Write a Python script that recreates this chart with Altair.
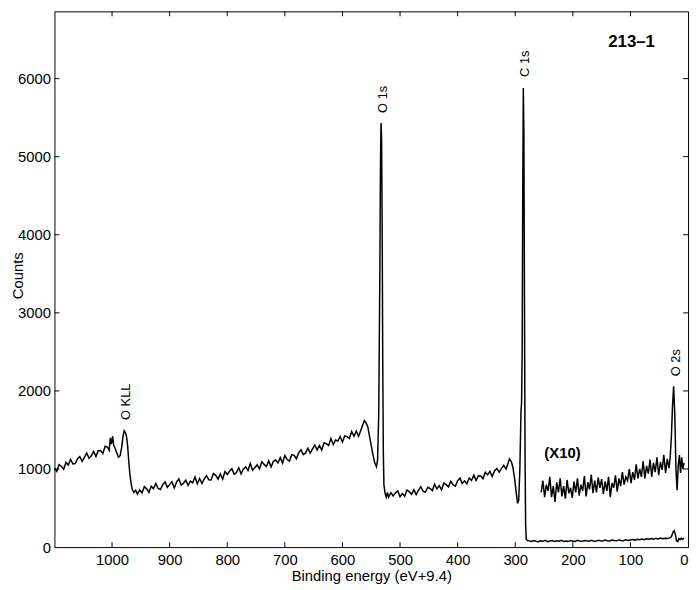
import altair as alt
import pandas as pd

FONT = "Liberation Sans"

# ---------------- main survey spectrum (Counts vs Binding energy) ----------------
segA_E = list(range(1100, 1007, -4))
segA_C = [1010, 970, 1055, 1035, 997, 1084, 1051, 1123, 1065, 1070,
          1130, 1160, 1097, 1149, 1206, 1138, 1170, 1225, 1160, 1235,
          1237, 1199, 1291, 1280]

kll_E = [1005, 1003, 1001, 999, 997, 995, 992, 989, 986, 983, 981, 979, 977, 975,
         973, 971, 969, 967, 965, 962, 959, 956]
kll_C = [1240, 1400, 1320, 1420, 1300, 1270, 1210, 1150, 1170, 1290, 1420, 1490, 1470, 1420,
         1300, 1100, 930, 820, 740, 700, 730, 680]

segB_E = list(range(952, 571, -4))
segB_C = [732, 693, 774, 746, 702, 778, 749, 815, 751, 738,
          799, 835, 766, 800, 838, 757, 831, 875, 794, 818,
          857, 791, 845, 824, 898, 812, 878, 815, 873, 915,
          862, 859, 942, 919, 871, 938, 870, 968, 930, 972,
          1004, 931, 954, 1016, 938, 1000, 1027, 980, 1072, 984,
          1021, 1053, 1000, 1092, 1059, 1032, 1104, 1026, 1098, 1115,
          1078, 1145, 1077, 1175, 1121, 1102, 1184, 1175, 1131, 1207,
          1248, 1185, 1206, 1267, 1203, 1259, 1307, 1243, 1303, 1244,
          1334, 1325, 1300, 1391, 1311, 1371, 1357, 1417, 1345, 1425,
          1415, 1390, 1480, 1420, 1485, 1420]

o1s_E = [568, 565, 562, 559, 556, 553, 550, 547, 544, 541, 539, 537, 535, 534, 533,
         532, 531, 530, 529, 528, 526, 524, 522]
o1s_C = [1500, 1560, 1620, 1590, 1540, 1420, 1300, 1180, 1080, 1030, 1120, 1700, 3600, 4900, 5430,
         5200, 4000, 2300, 1200, 800, 690, 640, 700]

segC_E = list(range(520, 315, -4))
segC_C = [640, 698, 656, 695, 718, 646, 685, 650, 730, 710,
          675, 736, 672, 728, 774, 715, 701, 767, 753, 724,
          805, 746, 787, 733, 819, 800, 771, 842, 798, 779,
          850, 883, 816, 849, 812, 885, 853, 921, 854, 912,
          910, 875, 960, 925, 970, 905, 975, 1007, 959, 1006,
          1048, 1000]

c1s_E = [313, 310, 307, 304, 301, 298, 296, 294, 292, 290, 289, 288, 287, 286, 285,
         284, 283, 282, 281, 279]
c1s_C = [1060, 1130, 1100, 1020, 870, 680, 560, 600, 1000, 1750, 1850, 2500, 4500, 5880, 5300,
         3200, 1200, 300, 100, 85]

segD_E = list(range(276, 31, -4))
segD_C = [80, 72, 85, 76, 70, 82, 74, 88, 70, 78,
          84, 72, 80, 75, 86, 73, 79, 71, 84, 77,
          72, 86, 78, 74, 85, 80, 76, 88, 79, 74,
          86, 80, 77, 89, 82, 78, 90, 84, 80, 92,
          85, 82, 95, 86, 92, 98, 88, 100, 94, 104,
          96, 106, 100, 110, 102, 112, 104, 116, 108, 114,
          110, 118]

o2s_E = [30, 28, 26, 24, 22, 20, 18, 16, 14, 12, 10, 8, 7]
o2s_C = [125, 150, 195, 210, 160, 80, 70, 110, 95, 115, 100, 110, 100]

# ---------------- (X10) expanded trace ----------------
x10_E = list(range(255, 32, -3))
x10_C = [700, 850, 640, 800, 720, 900, 640, 780, 580, 830,
         700, 880, 650, 780, 620, 860, 690, 760, 630, 840,
         700, 880, 660, 800, 720, 910, 650, 830, 740, 930,
         690, 850, 700, 890, 760, 870, 680, 840, 720, 900,
         640, 820, 760, 920, 710, 880, 780, 960, 800, 900,
         850, 1000, 820, 960, 860, 1060, 880, 1000, 900, 1100,
         880, 1040, 940, 1120, 900, 1080, 960, 1150, 920, 1090,
         990, 1180, 950, 1130, 1010]
x10p_E = [31, 29, 27, 25, 23, 21, 19, 17, 15, 13, 11, 9, 7]
x10p_C = [1150, 1400, 1800, 2060, 1700, 1000, 730, 1050, 1180, 950, 1150, 1000, 1080]

# ---------------- text & ticks ----------------
peak_labels = ["O KLL", "O 1s", "C 1s", "O 2s"]
peak_label_E = [976, 530, 283, 21]
peak_label_C = [1861, 5734, 6190, 2361]

x_ticks = [100, 200, 300, 400, 500, 600, 700, 800, 900, 1000]
x_labels = [0, 100, 200, 300, 400, 500, 600, 700, 800, 900, 1000]
y_ticks = [1000, 2000, 3000, 4000, 5000, 6000]
y_labels = [0, 1000, 2000, 3000, 4000, 5000, 6000]

pairs = [(segA_E, segA_C), (kll_E, kll_C), (segB_E, segB_C), (o1s_E, o1s_C),
         (segC_E, segC_C), (c1s_E, c1s_C), (segD_E, segD_C), (o2s_E, o2s_C)]
for e, c in pairs + [(x10_E, x10_C), (x10p_E, x10p_C)]:
    if len(e) != len(c):
        raise ValueError(f"length mismatch {len(e)} vs {len(c)} starting at {e[0]}")

rows = []
for e, c in pairs:
    rows += [{"E": a, "C": b, "s": "main"} for a, b in zip(e, c)]
for e, c in [(x10_E, x10_C), (x10p_E, x10p_C)]:
    rows += [{"E": a, "C": b, "s": "x10"} for a, b in zip(e, c)]
df = pd.DataFrame(rows)

W, H = 641, 542
xscale = alt.Scale(domain=[0, 1100], reverse=True, nice=False, zero=False)
yscale = alt.Scale(domain=[0, 6861], nice=False, zero=False)
xaxis = alt.Axis(values=x_labels, format="d", title="Binding energy (eV+9.4)",
                 titleY=22, titleBaseline="top")
yaxis = alt.Axis(values=y_labels, format="d", title="Counts",
                 titleX=-37, titleY=267, titleAngle=270, titleBaseline="middle")


def X():
    return alt.X("E:Q", scale=xscale, axis=xaxis)


def Y():
    return alt.Y("C:Q", scale=yscale, axis=yaxis)


lines = alt.Chart(df).mark_line(color="black", strokeWidth=1.5).encode(
    x=X(), y=Y(), detail="s:N",
    order=alt.Order("E:Q", sort="descending"),
)

xt = pd.DataFrame({"E": x_ticks})
yt = pd.DataFrame({"C": y_ticks})
tick_b = alt.Chart(xt).mark_rule(color="black", strokeWidth=1).encode(
    x=X(), y=alt.value(H), y2=alt.value(H - 5))
tick_t = alt.Chart(xt).mark_rule(color="black", strokeWidth=1).encode(
    x=X(), y=alt.value(0), y2=alt.value(5))
tick_l = alt.Chart(yt).mark_rule(color="black", strokeWidth=1).encode(
    y=Y(), x=alt.value(0), x2=alt.value(5))
tick_r = alt.Chart(yt).mark_rule(color="black", strokeWidth=1).encode(
    y=Y(), x=alt.value(W), x2=alt.value(W - 5))

lab_df = pd.DataFrame({"E": peak_label_E, "C": peak_label_C, "t": peak_labels})
peak_text = alt.Chart(lab_df).mark_text(
    angle=270, align="center", baseline="middle", font=FONT, fontSize=13, color="black"
).encode(x=X(), y=Y(), text="t:N")

sample_df = pd.DataFrame({"E": [98], "C": [6468], "t": ["213–1"]})
sample_text = alt.Chart(sample_df).mark_text(
    align="center", baseline="middle", font=FONT, fontSize=17, fontWeight="bold", color="black"
).encode(x=X(), y=Y(), text="t:N")

x10_df = pd.DataFrame({"E": [218], "C": [1203], "t": ["(X10)"]})
x10_text = alt.Chart(x10_df).mark_text(
    align="center", baseline="middle", font=FONT, fontSize=15, fontWeight="bold", color="black"
).encode(x=X(), y=Y(), text="t:N")

chart = alt.layer(
    lines, tick_b, tick_t, tick_l, tick_r, peak_text, sample_text, x10_text
).properties(
    width=W, height=H,
    autosize=alt.AutoSizeParams(type="none"),
    padding={"left": 47, "top": 0, "right": 4, "bottom": 40},
).configure_view(
    stroke="black", strokeWidth=1
).configure_axis(
    grid=False, domain=False, ticks=False,
    labelFont=FONT, labelFontSize=15, labelColor="black",
    titleFont=FONT, titleFontSize=15, titleColor="black", titleFontWeight="normal",
    labelPadding=4,
).configure_axisX(
    labelPadding=6,
)

chart.save("out.html", embed_options={"renderer": "svg", "actions": False})
